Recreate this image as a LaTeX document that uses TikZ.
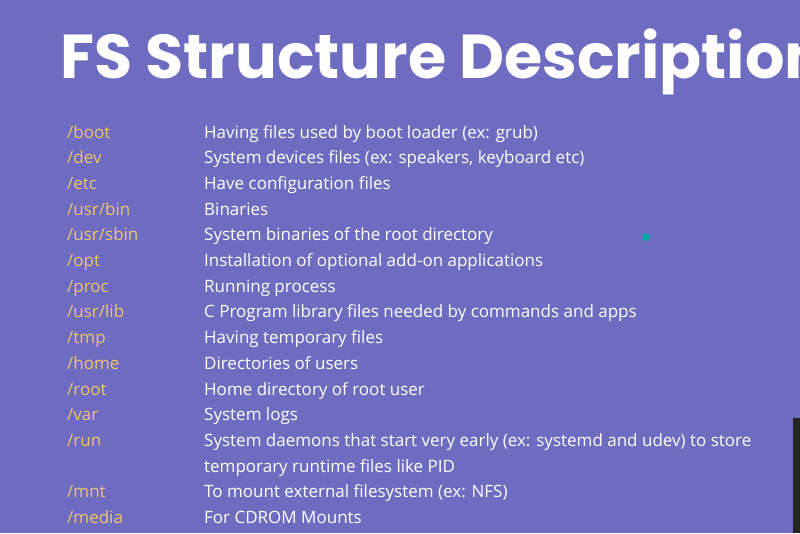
\documentclass[tikz,border=0pt]{standalone}
\usepackage{fontspec}
\setmainfont{Open Sans}
\newfontfamily\titlefont{Poppins}
\definecolor{bg}{HTML}{6E6CC0}
\definecolor{path}{HTML}{F2C46A}
\begin{document}
\begin{tikzpicture}[x=1pt,y=-1pt,
  pathlbl/.style={anchor=base west,text=path,font=\fontsize{17}{20}\selectfont,inner sep=0},
  desc/.style={anchor=base west,text=white,font=\fontsize{17}{20}\selectfont,inner sep=0}]
\fill[bg] (0,0) rectangle (800,533);
\useasboundingbox (0,0) rectangle (800,533);
\node[anchor=base west,inner sep=0,text=white,font=\titlefont\bfseries\fontsize{62}{70}\selectfont] (title) at (60,78) {FS Structure Description};
\foreach \p/\d [count=\i] in {
 {/boot}/{Having files used by boot loader (ex: grub)},
 {/dev}/{System devices files (ex: speakers, keyboard etc)},
 {/etc}/{Have configuration files},
 {/usr/bin}/{Binaries},
 {/usr/sbin}/{System binaries of the root directory},
 {/opt}/{Installation of optional add-on applications},
 {/proc}/{Running process},
 {/usr/lib}/{C Program library files needed by commands and apps},
 {/tmp}/{Having temporary files},
 {/home}/{Directories of users},
 {/root}/{Home directory of root user},
 {/var}/{System logs},
 {/run}/{System daemons that start very early (ex: systemd and udev) to store},
 {}/{temporary runtime files like PID},
 {/mnt}/{To mount external filesystem (ex: NFS)},
 {/media}/{For CDROM Mounts}}{
  \node[pathlbl] (p\i) at (67,{138+(\i-1)*25.7}) {\p};
  \node[desc] (d\i) at (204,{138+(\i-1)*25.7}) {\d};
}
\fill[teal!70!cyan] (646,237) circle (4);
\fill[black!85] (793,418) rectangle (800,533);
\end{tikzpicture}
\end{document}
